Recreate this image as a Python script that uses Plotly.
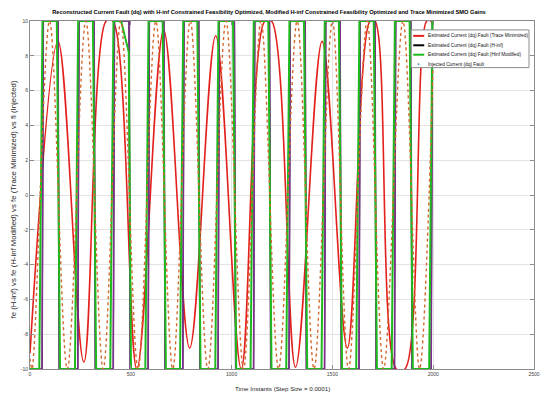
import plotly.graph_objects as go

# ---------------- data ----------------
# Injected current (dotted): extrema of the injected sinusoid
inj_t = [0, 10, 97, 185, 277, 363, 450, 536, 624, 708, 795, 882, 972, 1059,
         1146, 1233, 1325, 1409, 1500, 1580, 1672, 1754, 1850, 1932, 2000]
inj_v = [-9.4, -10, 10, -10, 10, -10, 10, -10, 10, -10, 10, -10, 10, -10,
         10, -10, 10, -10, 10, -10, 10, -10, 10, -10, 7.7]

# Trace minimized estimate (red): extrema (flat pairs where it saturates)
red_t = [0, 139, 267, 378, 411, 530, 663, 792, 921, 1048, 1165, 1198, 1317,
         1449, 1574, 1687, 1711, 1817, 1860, 1968, 1990, 2000]
red_v = [-9.1, 8.83, -9.6, 10, 10, -10, 9.47, -8.8, 9.15, -10, 10, 10, -9.9,
         8.83, -8.8, 10, 10, -10, -10, 10, 10, 9.8]

# H-inf modified estimate (green): corner points of the saturated wave
grn_t = [0, 46, 62, 133, 149, 223, 239, 312, 328, 398, 414, 452, 490, 501,
         572, 588, 658, 674, 744, 760, 830, 846, 919, 935, 1007, 1023,
         1094, 1110, 1182, 1198, 1271, 1287, 1359, 1375, 1446, 1462,
         1532, 1548, 1618, 1634, 1705, 1721, 1794, 1810, 1883, 1899,
         1980, 1996, 2000]
grn_v = [-10, -10, 10, 10, -10, -10, 10, 10, -10, -10, 10, 10, 8.2, -10,
         -10, 10, 10, -10, -10, 10, 10, -10, -10, 10, 10, -10,
         -10, 10, 10, -10, -10, 10, 10, -10, -10, 10,
         10, -10, -10, 10, 10, -10, -10, 10, 10, -10,
         -10, 10, 10]

# H-inf estimate (purple): corner points of the saturated wave
pur_t = [0, 60, 66, 139, 145, 237, 243, 318, 324, 413, 419, 491, 497,
         586, 592, 664, 670, 758, 764, 837, 843, 933, 939, 1014, 1020,
         1109, 1115, 1188, 1194, 1285, 1291, 1365, 1371, 1461, 1467,
         1538, 1544, 1632, 1638, 1711, 1717, 1808, 1814, 1889, 1895,
         1990, 1996, 2000]
pur_v = [-10, -10, 10, 10, -10, -10, 10, 10, -10, -10, 10, 10, -10,
         -10, 10, 10, -10, -10, 10, 10, -10, -10, 10, 10, -10,
         -10, 10, 10, -10, -10, 10, 10, -10, -10, 10,
         10, -10, -10, 10, 10, -10, -10, 10, 10, -10,
         -10, 10, 10]

x_ticks = [0, 500, 1000, 1500, 2000, 2500]
y_ticks = [-10, -8, -6, -4, -2, 0, 2, 4, 6, 8, 10]

legend_names = ["Estimated Current (dq) Fault (Trace Minimized)",
                "Estimated Current (dq) Fault (H-inf)",
                "Estimated Current (dq) Fault (Hinf Modified)",
                "Injected Current (dq) Fault"]

RED = "#E3201C"
BLACK = "#000000"
GREEN = "#1DBA1D"
PURPLE = "#7E2F8E"
ORANGE = "#D36A30"
FONT = "Liberation Sans, Arial, sans-serif"

# the page body has an 8px margin: figure is sized so it fits the window
W, H = 542, 391
OFF = 8

fig = go.Figure()
fig.add_trace(go.Scatter(x=red_t, y=red_v, mode="lines", name=legend_names[0],
                         line=dict(color=RED, width=1.6, shape="spline", smoothing=1)))
fig.add_trace(go.Scatter(x=pur_t, y=pur_v, mode="lines", name=legend_names[1],
                         line=dict(color=BLACK, width=1.2)))
fig.add_trace(go.Scatter(x=pur_t, y=pur_v, mode="lines", showlegend=False,
                         line=dict(color=PURPLE, width=1.6)))
fig.add_trace(go.Scatter(x=grn_t, y=grn_v, mode="lines", name=legend_names[2],
                         line=dict(color=GREEN, width=2.0)))
fig.add_trace(go.Scatter(x=inj_t, y=inj_v, mode="lines", name=legend_names[3],
                         line=dict(color=ORANGE, width=1.4, dash="dot",
                                   shape="spline", smoothing=1)))

# ---- legend drawn as a box in the top-right corner (paper coords) ----
def px2x(px):
    return (px - 30) / 505.0

def px2y(py):
    return (369 - py) / 351.0

shapes = [dict(type="rect", xref="paper", yref="paper",
               x0=px2x(412), x1=px2x(530), y0=px2y(65), y1=px2y(27),
               fillcolor="white", line=dict(color="#8C8C8C", width=1), layer="above")]
annotations = []
row_y = [33, 42.5, 52, 61.5]
row_col = [RED, BLACK, GREEN]
for i in range(3):
    shapes.append(dict(type="line", xref="paper", yref="paper",
                       x0=px2x(414), x1=px2x(425), y0=px2y(row_y[i]), y1=px2y(row_y[i]),
                       line=dict(color=row_col[i], width=2), layer="above"))
shapes.append(dict(type="circle", xref="paper", yref="paper",
                   x0=px2x(418.6), x1=px2x(420.0), y0=px2y(62.2), y1=px2y(60.8),
                   fillcolor="#3D7FA6", line=dict(color="#3D7FA6", width=0.5), layer="above"))
for i, name in enumerate(legend_names):
    annotations.append(dict(text=name, xref="paper", yref="paper",
                            x=px2x(426.5), y=px2y(row_y[i]), xanchor="left", yanchor="middle",
                            showarrow=False, font=dict(family=FONT, size=4.8, color="#111111")))

# axis titles
annotations.append(dict(text="Time Instants (Step Size = 0.0001)", xref="paper", yref="paper",
                        x=px2x(283), y=px2y(389), xanchor="center", yanchor="middle",
                        showarrow=False, font=dict(family=FONT, size=6.2, color="#262626")))
annotations.append(dict(text="fe (H-inf) vs fe (H-inf Modified) vs fe (Trace Minimized) vs fi (Injected)",
                        xref="paper", yref="paper", x=px2x(13), y=px2y(198),
                        xanchor="center", yanchor="middle", textangle=-90,
                        showarrow=False, font=dict(family=FONT, size=7.8, color="#262626")))

fig.update_layout(
    width=W, height=H,
    margin=dict(l=30 - OFF, r=15, t=18 - OFF, b=30),
    paper_bgcolor="white", plot_bgcolor="white",
    showlegend=False,
    title=dict(text="<b>Reconstructed Current Fault (dq) with H-inf Constrained Feasibility Optimized, "
                    "Modified H-inf Constrained Feasibility Optimized and Trace Minimized SMO Gains</b>",
               x=(269 - OFF) / W, y=1 - (12 - OFF) / H, xanchor="center", yanchor="middle",
               font=dict(family=FONT, size=5.7, color="#000000")),
    shapes=shapes, annotations=annotations,
)
fig.update_xaxes(range=[0, 2500], tickvals=x_ticks, ticktext=[str(v) for v in x_ticks],
                 showgrid=True, gridcolor="#E3E3E3", gridwidth=1,
                 showline=True, linecolor="#8C8C8C", linewidth=1, mirror="ticks",
                 ticks="inside", ticklen=4, tickcolor="#8C8C8C",
                 tickfont=dict(family=FONT, size=5, color="#404040"), zeroline=False)
fig.update_yaxes(range=[-10, 10], tickvals=y_ticks, ticktext=[str(v) for v in y_ticks],
                 showgrid=True, gridcolor="#E3E3E3", gridwidth=1,
                 showline=True, linecolor="#8C8C8C", linewidth=1, mirror="ticks",
                 ticks="inside", ticklen=4, tickcolor="#8C8C8C",
                 tickfont=dict(family=FONT, size=5, color="#404040"), zeroline=False)

fig.write_html("out.html")
